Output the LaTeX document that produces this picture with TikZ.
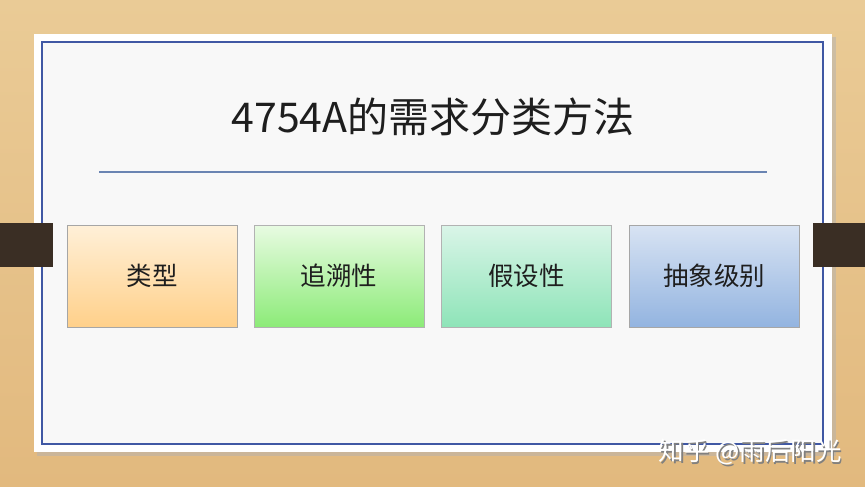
\documentclass[tikz,border=0pt]{standalone}
\usepackage{fontspec}
\setmainfont{Noto Sans CJK SC}
\newfontfamily\cjk{Noto Sans CJK SC}
\definecolor{wood}{HTML}{E2B97E}
\definecolor{woodlight}{HTML}{EACB96}
\definecolor{paper}{HTML}{F8F8F8}
\definecolor{frameblue}{HTML}{4058A4}
\definecolor{rule}{HTML}{6A84B2}
\definecolor{tab}{HTML}{3A2E24}
\definecolor{txt}{HTML}{1E1E1E}
\definecolor{oT}{HTML}{FFF0D8}\definecolor{oB}{HTML}{FFD08A}
\definecolor{gT}{HTML}{E8FBE2}\definecolor{gB}{HTML}{8CEB78}
\definecolor{mT}{HTML}{DAF5E8}\definecolor{mB}{HTML}{8EE4B8}
\definecolor{bT}{HTML}{D8E3F3}\definecolor{bB}{HTML}{93B4E0}
\tikzset{
  catbox/.style={draw=#1, line width=0.8pt, minimum width=170pt, minimum height=102pt, inner sep=0pt, font=\cjk\fontsize{25.5}{25.5}\selectfont, text=txt},
  wmark/.style={font=\cjk\fontsize{25.5}{25.5}\selectfont, anchor=east, inner sep=0pt},
}
\newcommand{\wmtext}{知乎 @雨后阳光}
\begin{document}
\begin{tikzpicture}[x=1pt,y=-1pt]
\useasboundingbox (0,0) rectangle (865,487);
% wood background
\fill[top color=woodlight, bottom color=wood] (0,0) rectangle (865,487);
% paper shadow and paper
\fill[black!30, opacity=0.5] (37,37) rectangle (836,456);
\fill[white] (34,34) rectangle (832,452);
\fill[paper] (42,42) rectangle (823,444);
\draw[frameblue, line width=1.3pt] (42,42) rectangle (823,444);
% tabs
\fill[tab] (0,223) rectangle (53,267);
\fill[tab] (813,223) rectangle (865,267);
% title
\node[font=\cjk\fontsize{41}{41}\selectfont, text=txt] (title) at (433,117) {4754A的需求分类方法};
\coordinate (l1) at (99,172);
\coordinate (l2) at (767,172);
\draw[rule, line width=1.2pt] (l1) -- (l2);
% boxes
\node[catbox=black!35, top color=oT, bottom color=oB] (b1) at (152,276) {类型};
\node[catbox=black!30, top color=gT, bottom color=gB] (b2) at (339,276) {追溯性};
\node[catbox=black!30, top color=mT, bottom color=mB] (b3) at (526.5,276) {假设性};
\node[catbox=black!35, top color=bT, bottom color=bB] (b4) at (714,276) {抽象级别};
% watermark (white text with a drop shadow, in one node)
\node[wmark, text=white] (wm) at (842,453) {\rlap{\kern1.5pt\raisebox{-1.5pt}{\color{black!50}\wmtext}}\wmtext};
\end{tikzpicture}
\end{document}
